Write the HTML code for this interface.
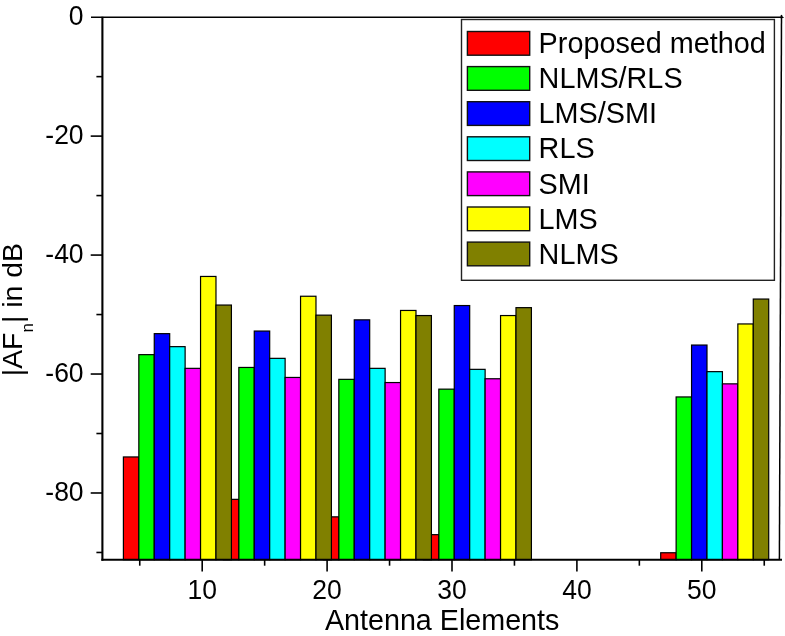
<!DOCTYPE html><html><head><meta charset="utf-8"><title>Bar chart</title><style>
html,body{margin:0;padding:0;background:#fff;overflow:hidden;}
svg{display:block;}
text{font-family:"Liberation Sans",Arial,sans-serif;fill:#000;}
</style></head><body>
<svg width="785" height="636" viewBox="0 0 785 636">
<rect x="0" y="0" width="785" height="636" fill="#fff"/>
<g stroke="#000" stroke-width="1.2">
<rect x="123.40" y="456.95" width="15.43" height="102.75" fill="#ff0000"/>
<rect x="223.40" y="499.35" width="15.43" height="60.35" fill="#ff0000"/>
<rect x="323.40" y="516.85" width="15.43" height="42.85" fill="#ff0000"/>
<rect x="423.40" y="534.65" width="15.43" height="25.05" fill="#ff0000"/>
<rect x="660.70" y="552.75" width="15.43" height="6.95" fill="#ff0000"/>
<rect x="138.83" y="354.65" width="15.43" height="205.05" fill="#00ff00"/>
<rect x="238.83" y="367.45" width="15.43" height="192.25" fill="#00ff00"/>
<rect x="338.83" y="379.35" width="15.43" height="180.35" fill="#00ff00"/>
<rect x="438.83" y="389.15" width="15.43" height="170.55" fill="#00ff00"/>
<rect x="676.13" y="396.95" width="15.43" height="162.75" fill="#00ff00"/>
<rect x="154.26" y="333.65" width="15.43" height="226.05" fill="#0000ff"/>
<rect x="254.26" y="331.05" width="15.43" height="228.65" fill="#0000ff"/>
<rect x="354.26" y="319.85" width="15.43" height="239.85" fill="#0000ff"/>
<rect x="454.26" y="305.55" width="15.43" height="254.15" fill="#0000ff"/>
<rect x="691.56" y="345.05" width="15.43" height="214.65" fill="#0000ff"/>
<rect x="169.69" y="346.65" width="15.43" height="213.05" fill="#00ffff"/>
<rect x="269.69" y="358.35" width="15.43" height="201.35" fill="#00ffff"/>
<rect x="369.69" y="368.35" width="15.43" height="191.35" fill="#00ffff"/>
<rect x="469.69" y="369.35" width="15.43" height="190.35" fill="#00ffff"/>
<rect x="706.99" y="371.65" width="15.43" height="188.05" fill="#00ffff"/>
<rect x="185.12" y="368.35" width="15.43" height="191.35" fill="#ff00ff"/>
<rect x="285.12" y="377.45" width="15.43" height="182.25" fill="#ff00ff"/>
<rect x="385.12" y="382.55" width="15.43" height="177.15" fill="#ff00ff"/>
<rect x="485.12" y="378.75" width="15.43" height="180.95" fill="#ff00ff"/>
<rect x="722.42" y="383.85" width="15.43" height="175.85" fill="#ff00ff"/>
<rect x="200.55" y="276.45" width="15.43" height="283.25" fill="#ffff00"/>
<rect x="300.55" y="296.25" width="15.43" height="263.45" fill="#ffff00"/>
<rect x="400.55" y="310.45" width="15.43" height="249.25" fill="#ffff00"/>
<rect x="500.55" y="315.55" width="15.43" height="244.15" fill="#ffff00"/>
<rect x="737.85" y="323.95" width="15.43" height="235.75" fill="#ffff00"/>
<rect x="215.98" y="305.05" width="15.43" height="254.65" fill="#808000"/>
<rect x="315.98" y="315.15" width="15.43" height="244.55" fill="#808000"/>
<rect x="415.98" y="315.55" width="15.43" height="244.15" fill="#808000"/>
<rect x="515.98" y="307.65" width="15.43" height="252.05" fill="#808000"/>
<rect x="753.28" y="299.05" width="15.43" height="260.65" fill="#808000"/>
</g>
<g stroke="#000" fill="none" stroke-linecap="butt">
<line x1="102.4" y1="16.65" x2="102.4" y2="560.7" stroke-width="2.1"/>
<line x1="101.4" y1="559.7" x2="782.0" y2="559.7" stroke-width="2.1"/>
<line x1="91" y1="17.2" x2="782.3" y2="17.2" stroke-width="1.5"/>
<line x1="781.5" y1="15" x2="779.4" y2="559.7" stroke-width="1.5"/>
<line x1="96.4" y1="76.63" x2="102.4" y2="76.63" stroke-width="1.6"/>
<line x1="90.7" y1="136.11" x2="102.4" y2="136.11" stroke-width="1.6"/>
<line x1="96.4" y1="195.59" x2="102.4" y2="195.59" stroke-width="1.6"/>
<line x1="90.7" y1="255.07" x2="102.4" y2="255.07" stroke-width="1.6"/>
<line x1="96.4" y1="314.55" x2="102.4" y2="314.55" stroke-width="1.6"/>
<line x1="90.7" y1="374.03" x2="102.4" y2="374.03" stroke-width="1.6"/>
<line x1="96.4" y1="433.51" x2="102.4" y2="433.51" stroke-width="1.6"/>
<line x1="90.7" y1="492.99" x2="102.4" y2="492.99" stroke-width="1.6"/>
<line x1="96.4" y1="552.47" x2="102.4" y2="552.47" stroke-width="1.6"/>
<line x1="139.75" y1="559.7" x2="139.75" y2="565.7" stroke-width="1.6"/>
<line x1="202.20" y1="559.7" x2="202.20" y2="571.4000000000001" stroke-width="1.6"/>
<line x1="264.65" y1="559.7" x2="264.65" y2="565.7" stroke-width="1.6"/>
<line x1="327.10" y1="559.7" x2="327.10" y2="571.4000000000001" stroke-width="1.6"/>
<line x1="389.55" y1="559.7" x2="389.55" y2="565.7" stroke-width="1.6"/>
<line x1="452.00" y1="559.7" x2="452.00" y2="571.4000000000001" stroke-width="1.6"/>
<line x1="514.45" y1="559.7" x2="514.45" y2="565.7" stroke-width="1.6"/>
<line x1="576.90" y1="559.7" x2="576.90" y2="571.4000000000001" stroke-width="1.6"/>
<line x1="639.35" y1="559.7" x2="639.35" y2="565.7" stroke-width="1.6"/>
<line x1="701.80" y1="559.7" x2="701.80" y2="571.4000000000001" stroke-width="1.6"/>
<line x1="764.25" y1="559.7" x2="764.25" y2="565.7" stroke-width="1.6"/>
</g>
<polygon points="780.3,18 781.3,14.6 782.3,16.4 784.2,17.4 781.2,18.4" fill="#000"/>
<text transform="translate(83.60,24.75) scale(1,1.05)" font-size="26.5" text-anchor="end">0</text>
<text transform="translate(83.60,143.71) scale(1,1.05)" font-size="26.5" text-anchor="end">-20</text>
<text transform="translate(83.60,262.67) scale(1,1.05)" font-size="26.5" text-anchor="end">-40</text>
<text transform="translate(83.60,381.63) scale(1,1.05)" font-size="26.5" text-anchor="end">-60</text>
<text transform="translate(83.60,500.59) scale(1,1.05)" font-size="26.5" text-anchor="end">-80</text>
<text transform="translate(202.20,598.90) scale(1,1.05)" font-size="26.5" text-anchor="middle">10</text>
<text transform="translate(327.10,598.90) scale(1,1.05)" font-size="26.5" text-anchor="middle">20</text>
<text transform="translate(452.00,598.90) scale(1,1.05)" font-size="26.5" text-anchor="middle">30</text>
<text transform="translate(576.90,598.90) scale(1,1.05)" font-size="26.5" text-anchor="middle">40</text>
<text transform="translate(701.80,598.90) scale(1,1.05)" font-size="26.5" text-anchor="middle">50</text>
<text transform="translate(324.90,630.10) scale(1,1.03)" font-size="28.7">Antenna Elements</text>
<text transform="translate(22,376.2) rotate(-90)" font-size="28.4">|AF<tspan font-size="17" dy="11">n</tspan><tspan dy="-11">| in dB</tspan></text>
<rect x="461.5" y="19.5" width="312.9" height="260.8" fill="#fff" stroke="#222" stroke-width="1.4"/>
<rect x="467.40" y="31.50" width="62.30" height="23.70" fill="#ff0000" stroke="#111" stroke-width="1.4"/>
<text transform="translate(538.60,52.70) scale(1,1.02)" font-size="28.8">Proposed method</text>
<rect x="467.40" y="66.60" width="62.30" height="23.70" fill="#00ff00" stroke="#111" stroke-width="1.4"/>
<text transform="translate(538.60,87.90) scale(1,1.02)" font-size="28.8">NLMS/RLS</text>
<rect x="467.40" y="101.70" width="62.30" height="23.70" fill="#0000ff" stroke="#111" stroke-width="1.4"/>
<text transform="translate(538.60,123.10) scale(1,1.02)" font-size="28.8">LMS/SMI</text>
<rect x="467.40" y="136.80" width="62.30" height="23.70" fill="#00ffff" stroke="#111" stroke-width="1.4"/>
<text transform="translate(538.60,158.30) scale(1,1.02)" font-size="28.8">RLS</text>
<rect x="467.40" y="171.90" width="62.30" height="23.70" fill="#ff00ff" stroke="#111" stroke-width="1.4"/>
<text transform="translate(538.60,193.50) scale(1,1.02)" font-size="28.8">SMI</text>
<rect x="467.40" y="207.00" width="62.30" height="23.70" fill="#ffff00" stroke="#111" stroke-width="1.4"/>
<text transform="translate(538.60,228.70) scale(1,1.02)" font-size="28.8">LMS</text>
<rect x="467.40" y="242.10" width="62.30" height="23.70" fill="#808000" stroke="#111" stroke-width="1.4"/>
<text transform="translate(538.60,263.90) scale(1,1.02)" font-size="28.8">NLMS</text>
</svg></body></html>
